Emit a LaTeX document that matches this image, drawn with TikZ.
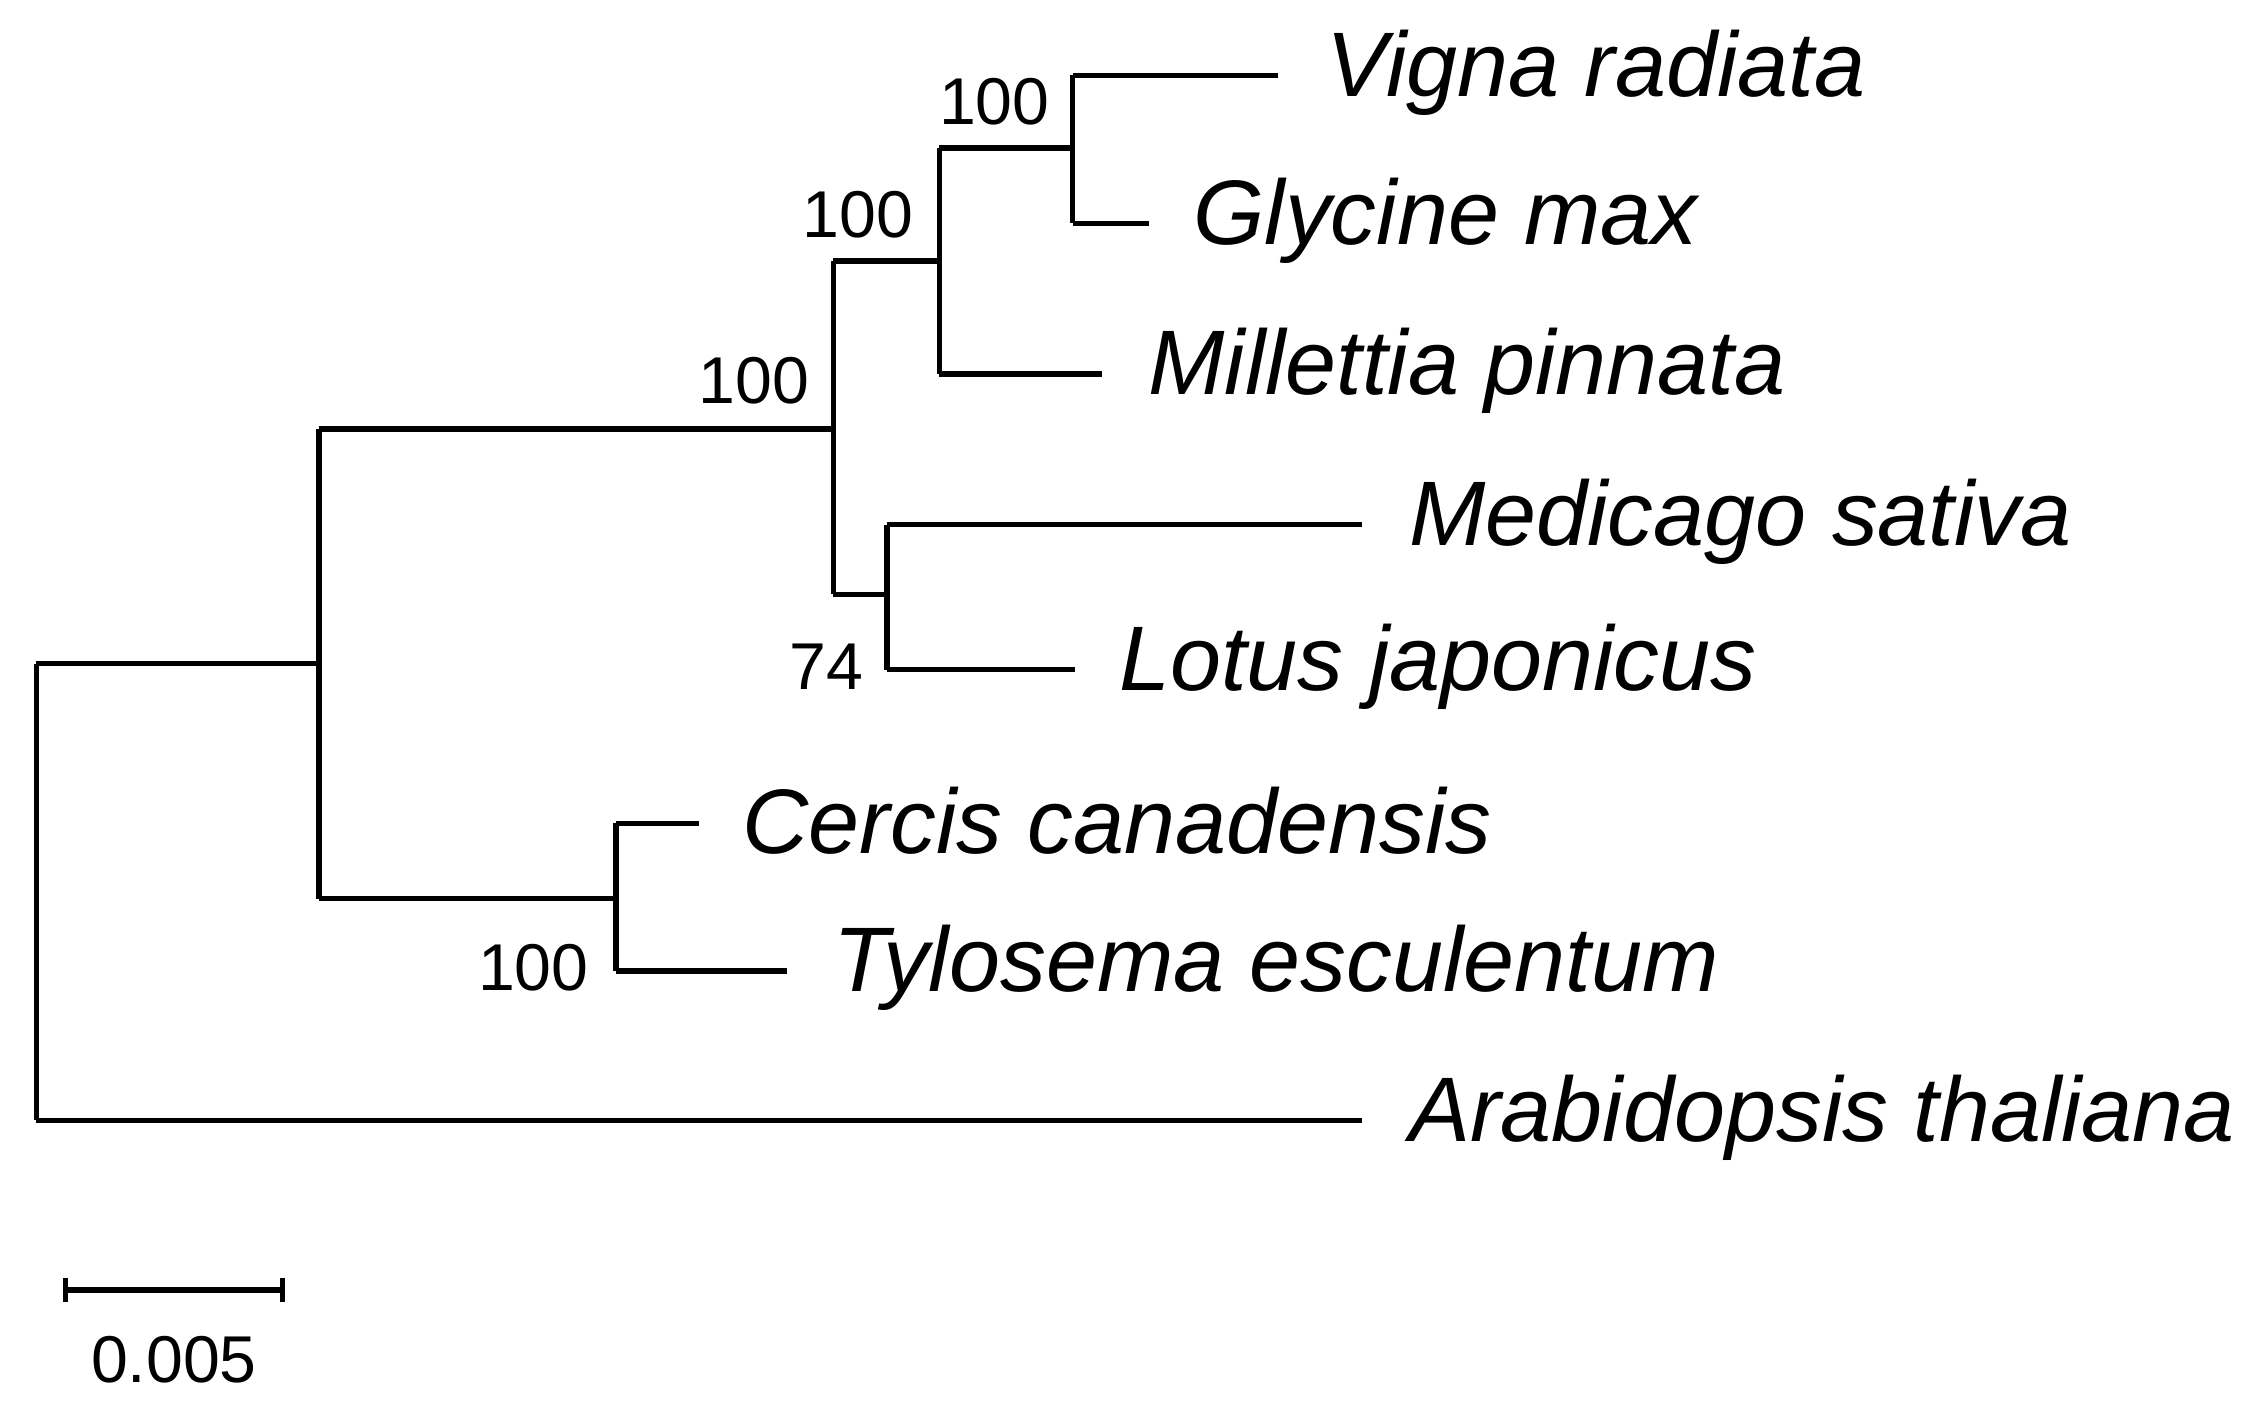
\documentclass[tikz,border=0pt]{standalone}
\usepackage{fontspec}
\setmainfont{Liberation Sans}
\begin{document}
\begin{tikzpicture}[x=0.02cm,y=-0.02cm,
  br/.style={line width=2.1pt},
  sp/.style={anchor=west,font=\fontsize{36}{40}\selectfont\itshape,inner sep=0pt},
  bs/.style={font=\fontsize{26}{30}\selectfont,inner sep=0pt}]
\useasboundingbox (0,0) rectangle (1560,970);
\coordinate (R1) at (25,458); \coordinate (R2) at (25,773);
\coordinate (A1) at (220,296); \coordinate (A2) at (220,620);
\coordinate (B1) at (575,180); \coordinate (B2) at (575,410);
\coordinate (C1) at (648,102); \coordinate (C2) at (648,258);
\coordinate (D1) at (740,52); \coordinate (D2) at (740,154);
\coordinate (E1) at (612,362); \coordinate (E2) at (612,462);
\coordinate (F1) at (425,568); \coordinate (F2) at (425,670);
\node[sp] (vr) at (915,50) {Vigna radiata};
\node[sp] (gm) at (823,152) {Glycine max};
\node[sp] (mp) at (792,256) {Millettia pinnata};
\node[sp] (ms) at (972,360) {Medicago sativa};
\node[sp] (lj) at (772,460) {Lotus japonicus};
\node[sp] (cc) at (512,566) {Cercis canadensis};
\node[sp] (te) at (575,668) {Tylosema esculentum};
\node[sp] (at) at (972,771) {Arabidopsis thaliana};
\draw[br] (R1) -- (R2);
\draw[br] (R1) -- (220,458) (A1) -- (A2);
\draw[br] (R2) -- (940,773);
\draw[br] (A1) -- (575,296) (B1) -- (B2);
\draw[br] (A2) -- (425,620) (F1) -- (F2);
\draw[br] (F1) -- (482,568) (F2) -- (543,670);
\draw[br] (B1) -- (648,180) (C1) -- (C2);
\draw[br] (B2) -- (612,410) (E1) -- (E2);
\draw[br] (E1) -- (940,362) (E2) -- (742,462);
\draw[br] (C1) -- (740,102) (D1) -- (D2);
\draw[br] (C2) -- (760,258);
\draw[br] (D1) -- (882,52) (D2) -- (793,154);
\node[bs] (l1) at (686,70) {100};
\node[bs] (l2) at (592,148) {100};
\node[bs] (l3) at (520,263) {100};
\node[bs] (l4) at (570,460) {74};
\node[bs] (l5) at (368,668) {100};
\coordinate (s1) at (45,890); \coordinate (s2) at (195,890);
\draw[br] (s1) -- (s2) (45,882) -- (45,898) (195,882) -- (195,898);
\node[bs] (sl) at (120,938) {0.005};
\end{tikzpicture}
\end{document}
